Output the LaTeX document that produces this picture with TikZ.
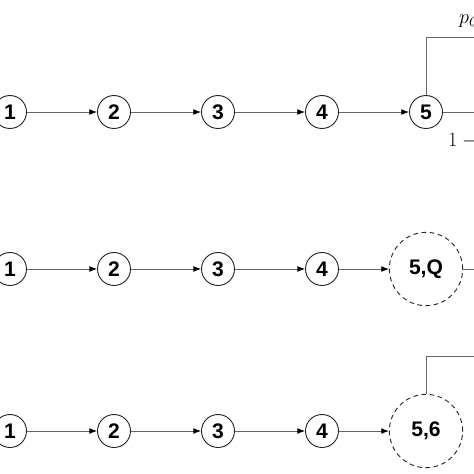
\documentclass[tikz,border=0pt]{standalone}
\usepackage{fontspec}
\setmainfont{Liberation Sans}
\usetikzlibrary{positioning,arrows.meta}

\begin{document}
\begin{tikzpicture}[%
    >={Latex[length=6.5pt,width=5pt,black]}, % small filled arrow tips
    node distance=3.12cm,    % centre to centre, nodes are on grid
    ]
% -------------------------------------------------
% Styles for the states and the connectors
\tikzset{
  base/.style={draw, on grid, circle, align=center, inner sep=0pt,
    line width=0.8pt, draw=black!85,
    font=\fontsize{18}{21}\selectfont\bfseries},
  st/.style={base, minimum size=0.99cm},
  ds/.style={base, dash pattern=on 4pt off 3pt, minimum size=2.2cm},
  norm/.style={->, draw, line width=0.7pt, gray!80!black},
  br/.style={draw, line width=0.7pt, gray!80!black},
  lbl/.style={inner sep=0pt, font=\fontsize{17}{20}\selectfont}
}
\useasboundingbox (-0.3,-10.86) rectangle (13.92,3.36);
% -------------------------------------------------
% First row
\node [st] (a1) {1};
\node [st, right=of a1] (a2) {2};
\node [st, right=of a2] (a3) {3};
\node [st, right=of a3] (a4) {4};
\node [st, right=of a4] (a5) {5};
% Second row
\node [st, below=4.71cm of a1] (b1) {1};
\node [st, right=of b1] (b2) {2};
\node [st, right=of b2] (b3) {3};
\node [st, right=of b3] (b4) {4};
\node [ds, right=of b4] (b5) {5,Q};
% Third row
\node [st, below=4.86cm of b1] (c1) {1};
\node [st, right=of c1] (c2) {2};
\node [st, right=of c2] (c3) {3};
\node [st, right=of c3] (c4) {4};
\node [ds, right=of c4] (c5) {5,6};

% Free ends of the branches
\coordinate [on grid, above=2.25cm of a5] (a5t);
\coordinate [on grid, right=2cm of a5t] (a5u);
\coordinate [on grid, right=2cm of a5] (a5r);
\coordinate [on grid, right=2.5cm of b5] (b5r);
\coordinate [on grid, above=2.25cm of c5] (c5t);
\coordinate [on grid, right=2cm of c5t] (c5u);

\draw[norm] (a1) -- (a2);
\draw[norm] (a2) -- (a3);
\draw[norm] (a3) -- (a4);
\draw[norm] (a4) -- (a5);
\draw[br] (a5) -- (a5t) -- (a5u);
\draw[br] (a5) -- (a5r);

\draw[norm] (b1) -- (b2);
\draw[norm] (b2) -- (b3);
\draw[norm] (b3) -- (b4);
\draw[norm] (b4) -- (b5);
\draw[br] (b5) -- (b5r);

\draw[norm] (c1) -- (c2);
\draw[norm] (c2) -- (c3);
\draw[norm] (c3) -- (c4);
\draw[norm] (c4) -- (c5);
\draw[br] (c5) -- (c5t) -- (c5u);

% Branch probabilities
\node [lbl, anchor=base west] (pq) at ([xshift=0.99cm, yshift=0.42cm]a5t) {$p_Q$};
\node [lbl, anchor=base west] (qp) at ([xshift=0.66cm, yshift=-1.02cm]a5) {$1-p_Q$};

% -------------------------------------------------
\end{tikzpicture}
\end{document}
